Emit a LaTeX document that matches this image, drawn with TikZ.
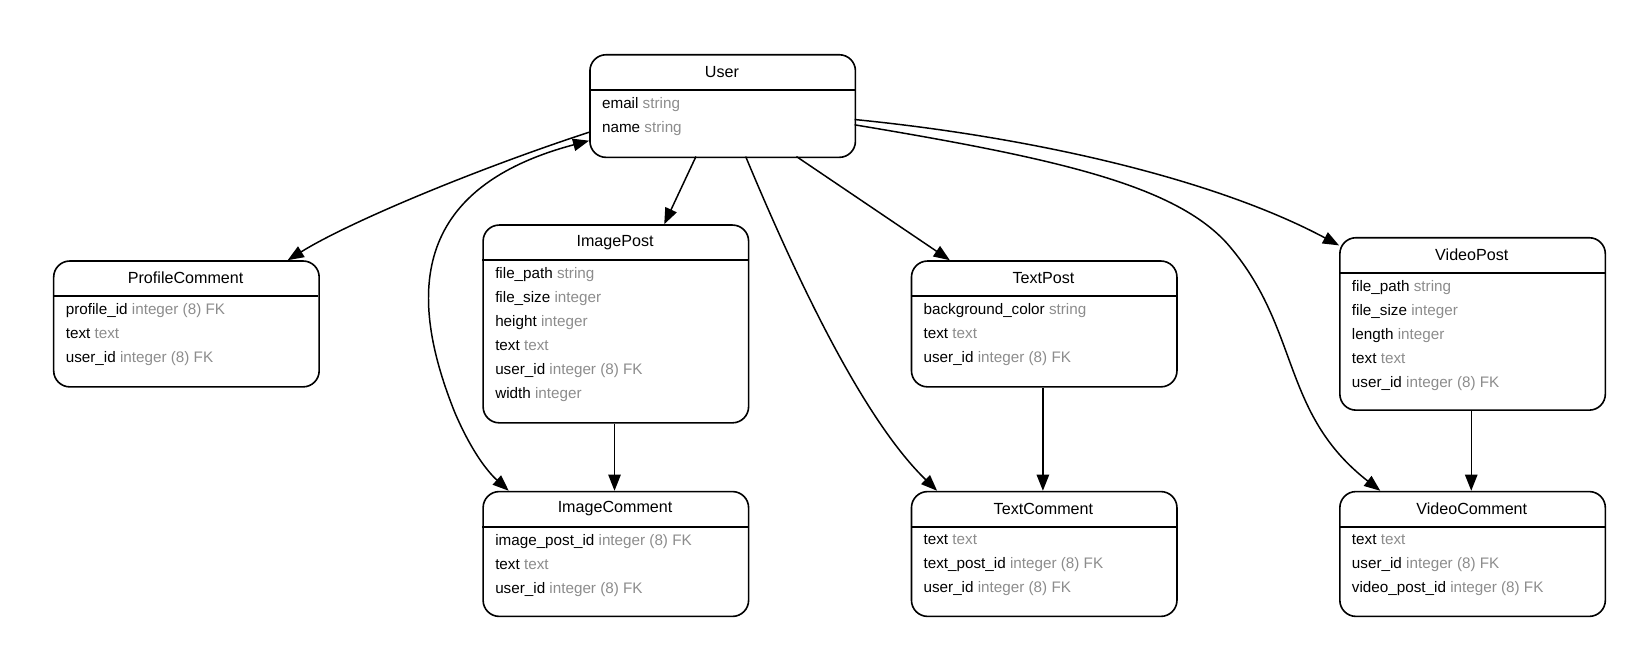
\documentclass[tikz,border=0pt]{standalone}
\usepackage{fontspec}
\setmainfont{Liberation Sans}
\usetikzlibrary{arrows.meta}
\definecolor{typ}{RGB}{140,140,140}
\newcommand{\ty}[1]{\textcolor{typ}{#1}}
\tikzset{
  box/.style={draw,line width=1.3pt,rounded corners=13pt},
  hdr/.style={line width=1.3pt},
  ttl/.style={font=\fontsize{13}{15}\selectfont,anchor=center,inner sep=0},
  fld/.style={font=\fontsize{12.3}{19.3}\selectfont,anchor=north west,align=left,inner sep=0},
  edge/.style={line width=1.2pt,-{Triangle[length=13pt,width=10pt]}},
}
% \ent{name}{x1}{y1}{x2}{y2}{headerY}{title}{fields}
\newcommand{\ent}[8]{%
  \node[box,minimum width={(#4-#2)*0.03cm},minimum height={(#5-#3)*0.03cm},anchor=north west,inner sep=0] (#1) at (#2,#3) {};
  \draw[hdr] (#2,#6) -- (#4,#6);
  \node[ttl] (#1-t) at ({(#2+#4)/2},{(#3+#6)/2}) {#7};
  \node[fld] (#1-f) at (#2+12,#6+7) {#8};
}
\begin{document}
\begin{tikzpicture}[x=0.03cm,y=-0.03cm]
\useasboundingbox (0,0) rectangle (1560,631);
\ent{user}{557}{51}{808}{148}{85}{User}{email \ty{string}\\name \ty{string}}
\ent{pc}{50}{246}{301}{365}{280}{ProfileComment}{profile\_id \ty{integer (8) FK}\\text \ty{text}\\user\_id \ty{integer (8) FK}}
\ent{ip}{456}{212}{707}{399}{246}{ImagePost}{file\_path \ty{string}\\file\_size \ty{integer}\\height \ty{integer}\\text \ty{text}\\user\_id \ty{integer (8) FK}\\width \ty{integer}}
\ent{ic}{456}{464}{707}{582}{498}{ImageComment}{image\_post\_id \ty{integer (8) FK}\\text \ty{text}\\user\_id \ty{integer (8) FK}}
\ent{tp}{861}{246}{1112}{365}{280}{TextPost}{background\_color \ty{string}\\text \ty{text}\\user\_id \ty{integer (8) FK}}
\ent{tc}{861}{464}{1112}{582}{498}{TextComment}{text \ty{text}\\text\_post\_id \ty{integer (8) FK}\\user\_id \ty{integer (8) FK}}
\ent{vp}{1266}{224}{1517}{387}{258}{VideoPost}{file\_path \ty{string}\\file\_size \ty{integer}\\length \ty{integer}\\text \ty{text}\\user\_id \ty{integer (8) FK}}
\ent{vc}{1266}{464}{1517}{582}{498}{VideoComment}{text \ty{text}\\user\_id \ty{integer (8) FK}\\video\_post\_id \ty{integer (8) FK}}
\coordinate (u1) at (557,125);
\coordinate (u2) at (557,133);
\coordinate (pct) at (272,246);
\coordinate (ict) at (481,464);
\draw[edge] (u1) .. controls (450,160) and (330,210) .. (pct);
\draw[edge,{Triangle[length=13pt,width=10pt]}-{Triangle[length=13pt,width=10pt]}] (u2) .. controls (380,180) and (390,290) .. (430,390) .. controls (445,425) and (460,445) .. (ict);
\draw[edge] (658,148) -- (ip.north -| 628,0);
\draw[edge] (705,148) .. controls (760,280) and (820,400) .. (tc.north -| 886,0);
\draw[edge] (753,148) -- (tp.north -| 898,0);
\draw[edge] (808,113) .. controls (980,130) and (1150,170) .. (vp.west |- 0,232);
\draw[edge] (808,118) .. controls (1000,150) and (1110,175) .. (1160,230) .. controls (1230,310) and (1210,390) .. (vc.north -| 1305,0);
\draw[edge] (ip.south -| 581,0) -- (ic.north -| 581,0);
\draw[edge] (tp.south -| 986,0) -- (tc.north -| 986,0);
\draw[edge] (vp.south -| 1391,0) -- (vc.north -| 1391,0);
\end{tikzpicture}
\end{document}
